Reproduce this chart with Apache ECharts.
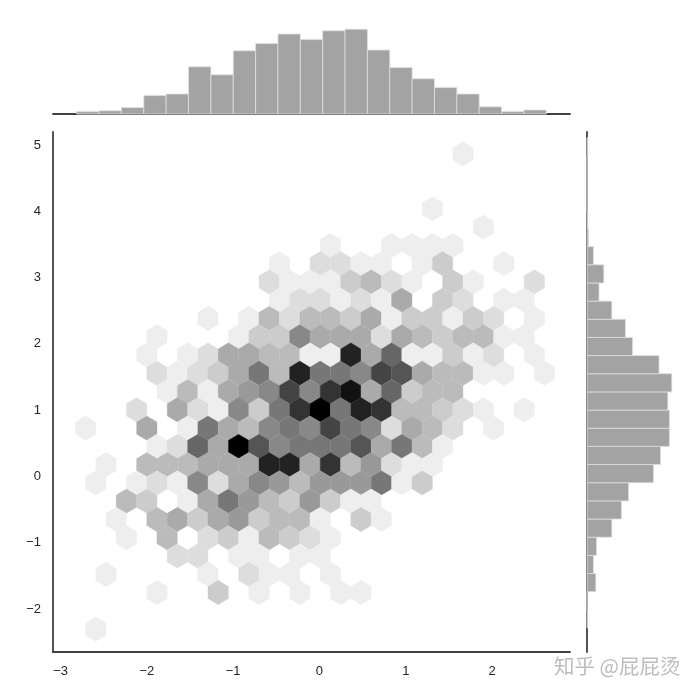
<!DOCTYPE html>
<html>
<head>
<meta charset="utf-8">
<style>html,body{margin:0;padding:0;background:#fff}#c{width:700px;height:697px}</style>
<script src="https://cdn.jsdelivr.net/npm/echarts@6/dist/echarts.min.js"></script>
</head>
<body>
<div id="c"></div>
<script>
const xTicks = [-3, -2, -1, 0, 1, 2];
const yTicks = [-2, -1, 0, 1, 2, 3, 4, 5];

// hexagon rows: centre y of the row, centre x of its first cell, counts per cell
const hexRowY = [4.864, 4.037, 3.762, 3.486, 3.210, 2.935, 2.659, 2.384, 2.108, 1.832, 1.557, 1.281,
  1.006, 0.730, 0.454, 0.179, -0.097, -0.372, -0.648, -0.924, -1.199, -1.475, -1.750, -2.302];
const hexRowStartX = [1.663, 1.308, 1.899, 0.126, -0.465, -0.583, -0.465, -1.292, -1.883, -2.001, -1.883, -1.765,
  -2.119, -2.710, -1.883, -2.474, -2.592, -2.238, -2.356, -2.238, -1.647, -2.474, -1.883, -2.592];
const hexRowCounts = [
  [1],
  [1],
  [1],
  [1,0,0,1,1,1,1],
  [1,0,2,2,1,1,0,1,3,0,0,1],
  [2,1,1,1,3,4,2,1,0,3,1,0,0,2],
  [1,2,2,1,2,1,5,0,3,2,0,1,1],
  [1,0,1,4,2,4,4,3,5,1,3,3,1,3,2,0,1],
  [1,0,0,0,1,3,3,7,5,5,5,2,5,4,3,4,4,1,1],
  [1,0,1,2,5,5,4,4,1,1,13,5,9,1,1,3,1,2,0,1],
  [2,1,2,3,5,8,4,13,8,8,7,11,10,5,4,4,1,1,0,1],
  [1,4,1,5,6,7,11,7,12,14,5,9,3,4,4],
  [2,0,5,2,1,7,3,8,12,15,8,13,12,4,4,3,2,1,0,1],
  [1,0,0,5,0,1,8,5,4,7,8,7,11,8,7,2,5,4,2,0,1],
  [1,2,9,5,15,10,7,8,8,8,10,5,8,4,1],
  [1,0,4,4,4,5,5,5,13,13,5,12,4,6,2,1,1],
  [1,0,1,2,1,7,2,5,7,6,4,6,6,6,8,1,3],
  [4,3,0,1,5,8,6,4,3,6,3,1,1],
  [1,0,4,5,3,5,6,3,4,4,1,0,3,1],
  [1,0,4,0,2,3,1,4,3,2,1],
  [2,2,0,1,1,0,1,1],
  [1,0,0,0,0,1,0,2,1,1,0,1],
  [1,0,0,3,0,1,0,1,0,1,1],
  [1]
];
const hexCellWidth = 0.2364;
const hexRowStep = 0.2756;
const hexMaxCount = 15;

// marginal histograms
const topHistStart = -2.813;
const topHistBin = 0.2591;
const topHistCounts = [3,4,8,23,25,59,49,79,88,100,93,104,106,80,58,44,33,25,9,3,5];
const rightHistStart = -2.285;
const rightHistBin = 0.2739;
const rightHistCounts = [1,0,11,8,12,31,43,52,83,92,103,103,101,106,90,57,48,31,15,21,8,2,1,0,0,0,1];

const hexData = [];
hexRowCounts.forEach((row, r) => {
  row.forEach((c, i) => {
    if (c > 0) hexData.push([hexRowStartX[r] + i * hexCellWidth, hexRowY[r], c]);
  });
});
const topData = topHistCounts.map((c, i) => [topHistStart + i * topHistBin, c]);
const rightData = rightHistCounts.map((c, i) => [rightHistStart + i * rightHistBin, c]);

const FONT = '"Liberation Sans", Arial, sans-serif';
const INK = '#404040';
const minus = v => String(v).replace('-', '\u2212');
const BAR = '#a3a3a3', EDGE = '#dedede';

const chart = echarts.init(document.getElementById('c'), null, {renderer: 'canvas'});
chart.setOption({
  animation: false,
  backgroundColor: '#fff',
  grid: [
    {left: 53, top: 132, width: 517, height: 520},
    {left: 53, top: 24, width: 517, height: 90},
    {left: 587, top: 132, width: 90, height: 520}
  ],
  xAxis: [
    {gridIndex: 0, type: 'value', min: -3.088, max: 2.903, splitLine: {show: false}, axisTick: {show: false},
     axisLine: {show: true, onZero: false, lineStyle: {color: INK, width: 1.8}},
     axisLabel: {show: true, customValues: xTicks, formatter: minus, margin: 13, fontFamily: FONT, fontSize: 13, color: '#262626', hideOverlap: false}},
    {gridIndex: 1, type: 'value', min: -3.088, max: 2.903, splitLine: {show: false}, axisTick: {show: false},
     axisLine: {show: true, onZero: false, lineStyle: {color: INK, width: 1.8}}, axisLabel: {show: false}},
    {gridIndex: 2, type: 'value', min: 0, max: 112.5, show: false}
  ],
  yAxis: [
    {gridIndex: 0, type: 'value', min: -2.647, max: 5.196, splitLine: {show: false}, axisTick: {show: false},
     axisLine: {show: true, onZero: false, lineStyle: {color: INK, width: 1.8}},
     axisLabel: {show: true, customValues: yTicks, formatter: minus, margin: 12, padding: [2, 0, 0, 0], fontFamily: FONT, fontSize: 13, color: '#262626', hideOverlap: false}},
    {gridIndex: 1, type: 'value', min: 0, max: 112.5, show: false},
    {gridIndex: 2, type: 'value', min: -2.647, max: 5.196, splitLine: {show: false}, axisTick: {show: false},
     axisLine: {show: true, onZero: false, lineStyle: {color: INK, width: 1.8}}, axisLabel: {show: false}}
  ],
  series: [
    {
      type: 'custom', xAxisIndex: 0, yAxisIndex: 0, data: hexData, silent: true, clip: false,
      renderItem: (p, api) => {
        const x = api.value(0), y = api.value(1), c = api.value(2);
        const hw = hexCellWidth / 2, r = hexRowStep * 2 / 3, h = r / 2;
        const pts = [[x, y + r], [x + hw, y + h], [x + hw, y - h], [x, y - r], [x - hw, y - h], [x - hw, y + h]].map(q => api.coord(q));
        const g = Math.round(255 - 255 * c / hexMaxCount);
        const fill = `rgb(${g},${g},${g})`;
        return {type: 'polygon', shape: {points: pts}, style: {fill, stroke: fill, lineWidth: 0.3}};
      }
    },
    {
      type: 'custom', xAxisIndex: 1, yAxisIndex: 1, data: topData, silent: true,
      renderItem: (p, api) => {
        const a = api.coord([api.value(0), 0]), b = api.coord([api.value(0) + topHistBin, api.value(1)]);
        return {type: 'rect', shape: {x: a[0], y: b[1], width: b[0] - a[0], height: a[1] - b[1]},
                style: {fill: BAR, stroke: EDGE, lineWidth: 0.8}};
      }
    },
    {
      type: 'custom', xAxisIndex: 2, yAxisIndex: 2, data: rightData, silent: true,
      renderItem: (p, api) => {
        const a = api.coord([0, api.value(0)]), b = api.coord([api.value(1), api.value(0) + rightHistBin]);
        return {type: 'rect', shape: {x: a[0], y: b[1], width: b[0] - a[0], height: a[1] - b[1]},
                style: {fill: BAR, stroke: EDGE, lineWidth: 0.8}};
      }
    }
  ],
  graphic: [{
    type: 'text', left: 554, top: 656, z: 100,
    style: {text: '知乎 @屁屁烫', font: '20.5px "Noto Sans CJK SC"', fill: '#bdbdbd'}
  }]
});
</script>
</body>
</html>
